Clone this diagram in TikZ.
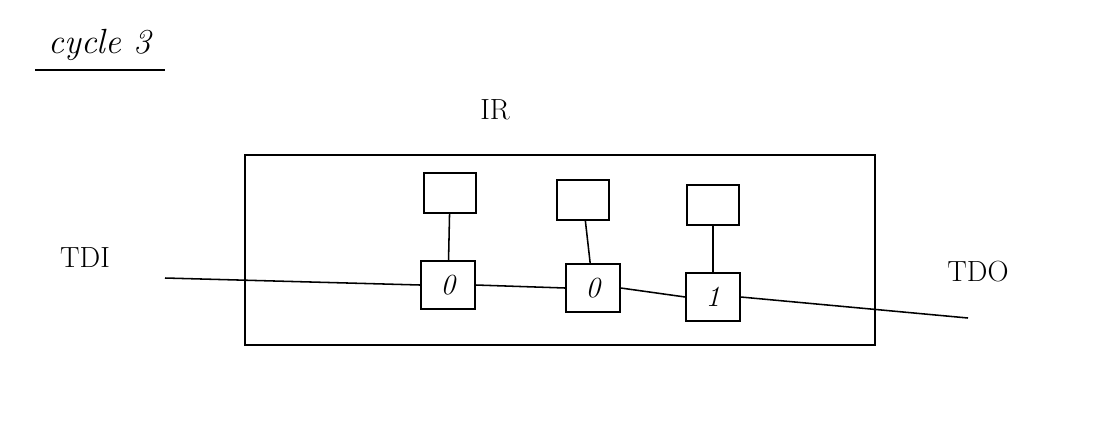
\documentclass[tikz,border=0pt]{standalone}
\usepackage{tikz}
\usetikzlibrary{positioning}
\begin{document}
\begin{tikzpicture}[x=0.025cm, y=-0.025cm, line width=1.1pt,
    cell/.style={draw, minimum width=1.35cm, minimum height=1.2cm, inner sep=0pt, font=\huge\itshape},
    shadow/.style={draw, minimum width=1.3cm, minimum height=1.0cm, inner sep=0pt},
    lbl/.style={font=\huge}]
    \useasboundingbox (0,0) rectangle (1096,430);

    % title and register name
    \node[lbl, font=\Huge\itshape] (title) at (100,45) {cycle 3};
    \draw (35,70) -- (165,70);
    \node[lbl] (ir) at (495,110) {IR};

    % register outline
    \node[draw, minimum width=15.75cm, minimum height=4.75cm, inner sep=0pt] (reg) at (560,250) {};

    % shift cells
    \node[cell] (c1) at (448,285) {0};
    \node[cell] (c2) at (593,288) {0};
    \node[cell] (c3) at (713,297) {1};

    % update cells
    \node[shadow] (u1) at (450,193) {};
    \node[shadow] (u2) at (583,200) {};
    \node[shadow] (u3) at (713,205) {};

    \foreach \i in {1,2,3}
        \draw (u\i) -- (c\i);

    % scan chain
    \node[lbl] (tdi) at (85,258) {TDI};
    \node[lbl] (tdo) at (978,272) {TDO};
    \coordinate (in) at (165,278);
    \coordinate (out) at (968,318);
    \draw (in) -- (c1.west);
    \draw (c1.east) -- (c2.west);
    \draw (c2.east) -- (c3.west);
    \draw (c3.east) -- (out);

\end{tikzpicture}
\end{document}
